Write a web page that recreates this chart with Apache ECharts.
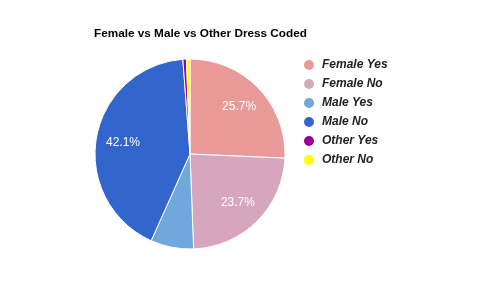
<!DOCTYPE html>
<html><head><meta charset="utf-8">
<script src="https://cdn.jsdelivr.net/npm/echarts@6/dist/echarts.min.js"></script>
<style>html,body{margin:0;padding:0;background:#fff}#c{width:498px;height:307px}</style>
</head><body><div id="c"></div>
<script>
var categories = ["Female Yes", "Female No", "Male Yes", "Male No", "Other Yes", "Other No"];
var values = [25.7, 23.7, 7.3, 42.1, 0.6, 0.6];
var colors = ["#EA9999", "#D5A6BD", "#6FA8DC", "#3366CC", "#990099", "#FFFF00"];
var labelThreshold = 8;

var data = categories.map(function (c, i) { return { name: c, value: values[i] }; });
var total = values.reduce(function (a, b) { return a + b; }, 0);

var chart = echarts.init(document.getElementById('c'), null, { renderer: 'canvas' });
chart.setOption({
  animation: false,
  color: colors,
  title: {
    text: "Female vs Male vs Other Dress Coded",
    left: 94, top: 28, padding: 0,
    textStyle: { fontFamily: "Liberation Sans, Arial", fontSize: 11.75, fontWeight: "bold", color: "#000" }
  },
  legend: {
    orient: "vertical", left: 302, top: 58, padding: 0,
    icon: "circle", itemWidth: 12, itemHeight: 12, itemGap: 5,
    data: categories,
    textStyle: { fontFamily: "Liberation Sans, Arial", fontSize: 12, fontWeight: "bold", fontStyle: "italic", color: "#222", padding: [0, 0, 0, 2] }
  },
  series: [
    {
      type: "pie", radius: [0, 95], center: [190, 154],
      startAngle: 90, clockwise: true,
      data: data,
      itemStyle: { borderColor: "#fff", borderWidth: 1 },
      label: { show: false }, labelLine: { show: false },
      emphasis: { disabled: true }
    },
    {
      type: "pie", radius: [35, 95], center: [190, 154],
      startAngle: 90, clockwise: true, silent: true,
      data: data,
      itemStyle: { color: "rgba(0,0,0,0)", borderWidth: 0 },
      label: {
        show: true, position: "inside", color: "#fff",
        fontFamily: "Liberation Sans, Arial", fontSize: 12,
        formatter: function (p) {
          var pct = p.value / total * 100;
          return pct >= labelThreshold ? pct.toFixed(1) + "%" : "";
        }
      },
      labelLine: { show: false },
      emphasis: { disabled: true }
    }
  ]
});
</script></body></html>
